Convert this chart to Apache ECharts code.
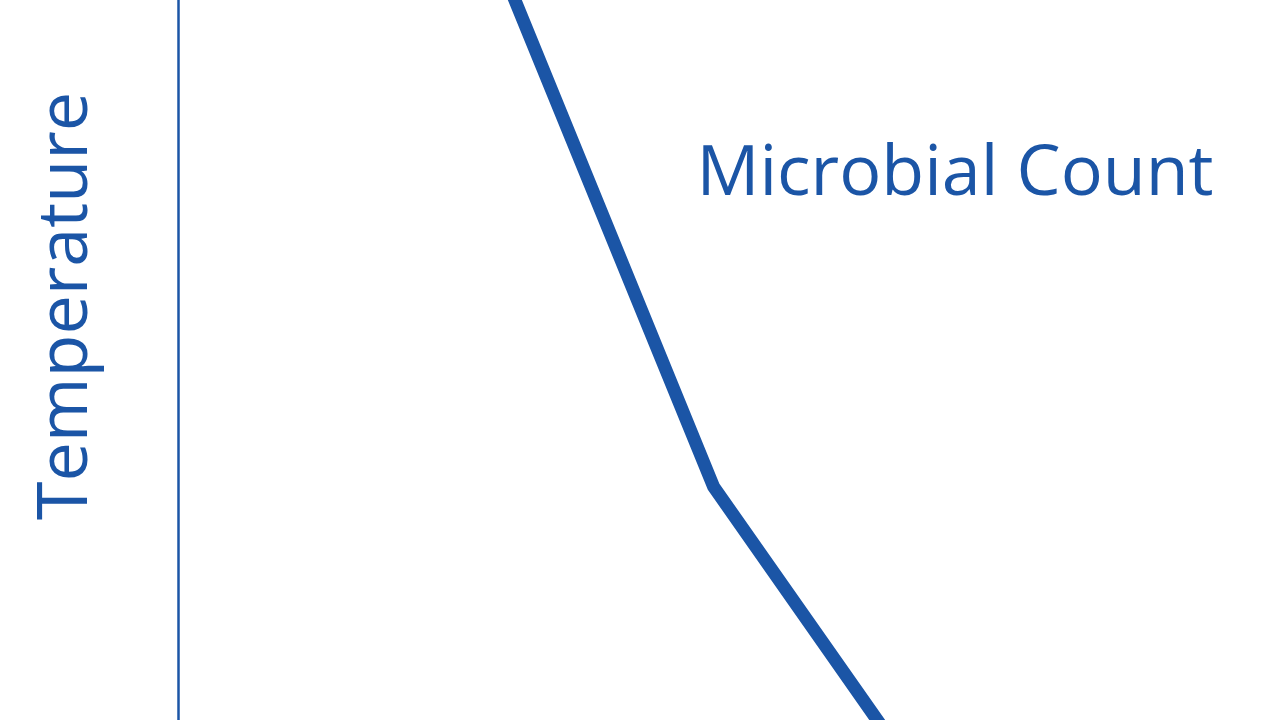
<!DOCTYPE html>
<html><head><meta charset="utf-8">
<script src="https://cdn.jsdelivr.net/npm/echarts@6/dist/echarts.min.js"></script>
<style>html,body{margin:0;padding:0;background:#fff}#c{width:1280px;height:720px}</style>
</head><body><div id="c"></div>
<script>
const timeValues = [29.5, 48.6, 66.2];
const countValues = [104, 32.4, -6];
const yAxisTitle = 'Temperature';
const seriesLabel = 'Microbial Count';
const blue = '#1b55a6';

const chart = echarts.init(document.getElementById('c'));
chart.setOption({
  backgroundColor: '#fff',
  animation: false,
  grid: {left: 178, right: 0, top: 0, bottom: 0},
  xAxis: {type: 'value', min: 0, max: 100, show: false},
  yAxis: {type: 'value', min: 0, max: 100,
    axisLine: {show: true, lineStyle: {color: blue, width: 2.5}},
    axisTick: {show: false}, axisLabel: {show: false}, splitLine: {show: false}},
  graphic: [
    {type: 'text', x: 67, y: 306, rotation: Math.PI / 2,
     style: {text: yAxisTitle, fill: blue, font: '70px "Open Sans"', align: 'center', verticalAlign: 'middle'}},
    {type: 'text', x: 955, y: 175,
     style: {text: seriesLabel, fill: blue, font: '70px "Open Sans"', align: 'center', verticalAlign: 'middle'}}
  ],
  series: [{
    type: 'line', name: seriesLabel, clip: true, symbol: 'none',
    data: timeValues.map((t, i) => [t, countValues[i]]),
    lineStyle: {color: blue, width: 13, join: 'miter'}
  }]
});
</script></body></html>
